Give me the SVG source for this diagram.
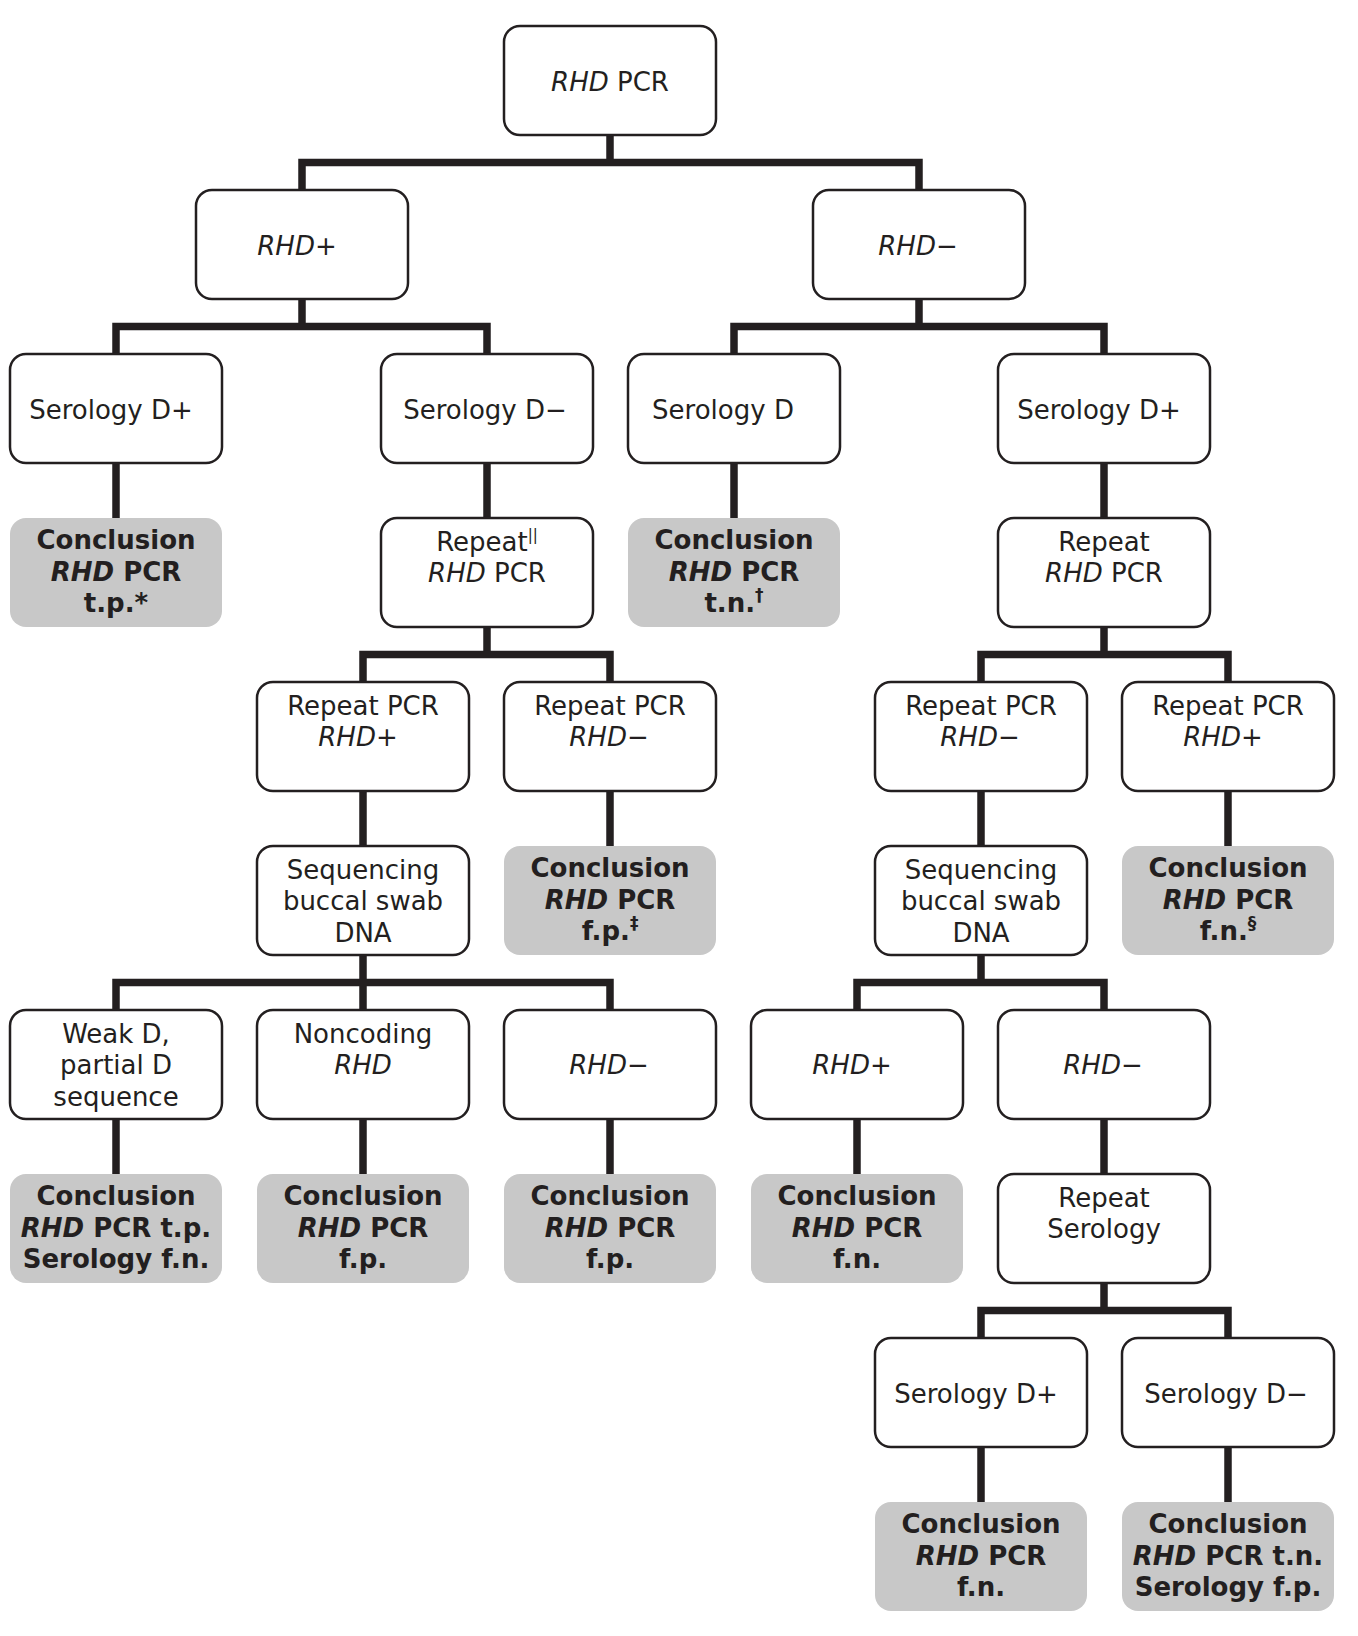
<svg xmlns="http://www.w3.org/2000/svg" width="1358" height="1636" viewBox="0 0 1358 1636">
<style>
.box{fill:#ffffff;stroke:#231f20;stroke-width:2.5}
.concl{fill:#c8c8c8;stroke:none}
.t{font-family:"DejaVu Sans",Verdana,sans-serif;font-size:26px;fill:#231f20;text-anchor:middle}
.b{font-weight:bold}
.i{font-style:italic}
.sup{font-size:15px;font-weight:normal;font-style:normal}
.supb{font-size:17px;font-weight:bold;font-style:normal}
.conn{fill:none;stroke:#231f20;stroke-width:7.5;stroke-linejoin:miter;stroke-linecap:butt}
</style>
<rect width="1358" height="1636" fill="#ffffff"/>

<g id="connectors" class="conn">
  <path d="M610 135 V162.5 M302 190 V162.5 H919 V190"/>
  <path d="M302 299 V326.5 M116 354 V326.5 H487 V354"/>
  <path d="M919 299 V326.5 M734 354 V326.5 H1104 V354"/>
  <path d="M116 463 V518 M487 463 V518 M734 463 V518 M1104 463 V518"/>
  <path d="M487 627 V654.5 M363 682 V654.5 H610 V682"/>
  <path d="M1104 627 V654.5 M981 682 V654.5 H1228 V682"/>
  <path d="M363 791 V846 M610 791 V846 M981 791 V846 M1228 791 V846"/>
  <path d="M363 955 V1010 M116 1010 V982.5 H610 V1010"/>
  <path d="M981 955 V982.5 M857 1010 V982.5 H1104 V1010"/>
  <path d="M116 1119 V1174 M363 1119 V1174 M610 1119 V1174 M857 1119 V1174 M1104 1119 V1174"/>
  <path d="M1104 1283 V1310.5 M981 1338 V1310.5 H1228 V1338"/>
  <path d="M981 1447 V1502 M1228 1447 V1502"/>
</g>

<g id="root" transform="translate(610,26)">
  <rect class="box" x="-106" y="0" width="212" height="109" rx="16"/>
  <text class="t" x="0" y="64.5"><tspan class="i">RHD</tspan> PCR</text>
</g>

<g id="rhd-pos" transform="translate(302,190)">
  <rect class="box" x="-106" y="0" width="212" height="109" rx="16"/>
  <text class="t i" x="-5" y="64.5">RHD+</text>
</g>
<g id="rhd-neg" transform="translate(919,190)">
  <rect class="box" x="-106" y="0" width="212" height="109" rx="16"/>
  <text class="t i" x="-1" y="64.5">RHD−</text>
</g>

<g id="ser-dpos-1" transform="translate(116,354)">
  <rect class="box" x="-106" y="0" width="212" height="109" rx="16"/>
  <text class="t" x="-5" y="64.5">Serology D+</text>
</g>
<g id="ser-dneg-1" transform="translate(487,354)">
  <rect class="box" x="-106" y="0" width="212" height="109" rx="16"/>
  <text class="t" x="-2" y="64.5">Serology D−</text>
</g>
<g id="ser-d" transform="translate(734,354)">
  <rect class="box" x="-106" y="0" width="212" height="109" rx="16"/>
  <text class="t" x="-11" y="64.5">Serology D</text>
</g>
<g id="ser-dpos-2" transform="translate(1104,354)">
  <rect class="box" x="-106" y="0" width="212" height="109" rx="16"/>
  <text class="t" x="-5" y="64.5">Serology D+</text>
</g>

<g id="concl-tp" transform="translate(116,518)">
  <rect class="concl" x="-106" y="0" width="212" height="109" rx="16"/>
  <text class="t b" x="0" y="31">Conclusion</text>
  <text class="t b" x="0" y="62.5"><tspan class="i">RHD</tspan> PCR</text>
  <text class="t b" x="0" y="94">t.p.*</text>
</g>
<g id="repeat-pcr-1" transform="translate(487,518)">
  <rect class="box" x="-106" y="0" width="212" height="109" rx="16"/>
  <text class="t" x="0" y="32.5">Repeat<tspan class="sup" dy="-11">||</tspan></text>
  <text class="t" x="0" y="64"><tspan class="i">RHD</tspan> PCR</text>
</g>
<g id="concl-tn" transform="translate(734,518)">
  <rect class="concl" x="-106" y="0" width="212" height="109" rx="16"/>
  <text class="t b" x="0" y="31">Conclusion</text>
  <text class="t b" x="0" y="62.5"><tspan class="i">RHD</tspan> PCR</text>
  <text class="t b" x="0" y="94">t.n.<tspan class="supb" dy="-11">†</tspan></text>
</g>
<g id="repeat-pcr-2" transform="translate(1104,518)">
  <rect class="box" x="-106" y="0" width="212" height="109" rx="16"/>
  <text class="t" x="0" y="32.5">Repeat</text>
  <text class="t" x="0" y="64"><tspan class="i">RHD</tspan> PCR</text>
</g>

<g id="rep-pos-1" transform="translate(363,682)">
  <rect class="box" x="-106" y="0" width="212" height="109" rx="16"/>
  <text class="t" x="0" y="32.5">Repeat PCR</text>
  <text class="t i" x="-5" y="64">RHD+</text>
</g>
<g id="rep-neg-1" transform="translate(610,682)">
  <rect class="box" x="-106" y="0" width="212" height="109" rx="16"/>
  <text class="t" x="0" y="32.5">Repeat PCR</text>
  <text class="t i" x="-1" y="64">RHD−</text>
</g>
<g id="rep-neg-2" transform="translate(981,682)">
  <rect class="box" x="-106" y="0" width="212" height="109" rx="16"/>
  <text class="t" x="0" y="32.5">Repeat PCR</text>
  <text class="t i" x="-1" y="64">RHD−</text>
</g>
<g id="rep-pos-2" transform="translate(1228,682)">
  <rect class="box" x="-106" y="0" width="212" height="109" rx="16"/>
  <text class="t" x="0" y="32.5">Repeat PCR</text>
  <text class="t i" x="-5" y="64">RHD+</text>
</g>

<g id="seq-1" transform="translate(363,846)">
  <rect class="box" x="-106" y="0" width="212" height="109" rx="16"/>
  <text class="t" x="0" y="32.5">Sequencing</text>
  <text class="t" x="0" y="64">buccal swab</text>
  <text class="t" x="0" y="95.5">DNA</text>
</g>
<g id="concl-fp-1" transform="translate(610,846)">
  <rect class="concl" x="-106" y="0" width="212" height="109" rx="16"/>
  <text class="t b" x="0" y="31">Conclusion</text>
  <text class="t b" x="0" y="62.5"><tspan class="i">RHD</tspan> PCR</text>
  <text class="t b" x="0" y="94">f.p.<tspan class="supb" dy="-11">‡</tspan></text>
</g>
<g id="seq-2" transform="translate(981,846)">
  <rect class="box" x="-106" y="0" width="212" height="109" rx="16"/>
  <text class="t" x="0" y="32.5">Sequencing</text>
  <text class="t" x="0" y="64">buccal swab</text>
  <text class="t" x="0" y="95.5">DNA</text>
</g>
<g id="concl-fn-1" transform="translate(1228,846)">
  <rect class="concl" x="-106" y="0" width="212" height="109" rx="16"/>
  <text class="t b" x="0" y="31">Conclusion</text>
  <text class="t b" x="0" y="62.5"><tspan class="i">RHD</tspan> PCR</text>
  <text class="t b" x="0" y="94">f.n.<tspan class="supb" dy="-11">§</tspan></text>
</g>

<g id="weak-d" transform="translate(116,1010)">
  <rect class="box" x="-106" y="0" width="212" height="109" rx="16"/>
  <text class="t" x="0" y="32.5">Weak D,</text>
  <text class="t" x="0" y="64">partial D</text>
  <text class="t" x="0" y="95.5">sequence</text>
</g>
<g id="noncoding" transform="translate(363,1010)">
  <rect class="box" x="-106" y="0" width="212" height="109" rx="16"/>
  <text class="t" x="0" y="32.5">Noncoding</text>
  <text class="t i" x="0" y="64">RHD</text>
</g>
<g id="seq-neg-1" transform="translate(610,1010)">
  <rect class="box" x="-106" y="0" width="212" height="109" rx="16"/>
  <text class="t i" x="-1" y="64">RHD−</text>
</g>
<g id="seq-pos-2" transform="translate(857,1010)">
  <rect class="box" x="-106" y="0" width="212" height="109" rx="16"/>
  <text class="t i" x="-5" y="64">RHD+</text>
</g>
<g id="seq-neg-2" transform="translate(1104,1010)">
  <rect class="box" x="-106" y="0" width="212" height="109" rx="16"/>
  <text class="t i" x="-1" y="64">RHD−</text>
</g>

<g id="concl-tp-fn" transform="translate(116,1174)">
  <rect class="concl" x="-106" y="0" width="212" height="109" rx="16"/>
  <text class="t b" x="0" y="31">Conclusion</text>
  <text class="t b" x="0" y="62.5"><tspan class="i">RHD</tspan> PCR t.p.</text>
  <text class="t b" x="0" y="94">Serology f.n.</text>
</g>
<g id="concl-fp-2" transform="translate(363,1174)">
  <rect class="concl" x="-106" y="0" width="212" height="109" rx="16"/>
  <text class="t b" x="0" y="31">Conclusion</text>
  <text class="t b" x="0" y="62.5"><tspan class="i">RHD</tspan> PCR</text>
  <text class="t b" x="0" y="94">f.p.</text>
</g>
<g id="concl-fp-3" transform="translate(610,1174)">
  <rect class="concl" x="-106" y="0" width="212" height="109" rx="16"/>
  <text class="t b" x="0" y="31">Conclusion</text>
  <text class="t b" x="0" y="62.5"><tspan class="i">RHD</tspan> PCR</text>
  <text class="t b" x="0" y="94">f.p.</text>
</g>
<g id="concl-fn-2" transform="translate(857,1174)">
  <rect class="concl" x="-106" y="0" width="212" height="109" rx="16"/>
  <text class="t b" x="0" y="31">Conclusion</text>
  <text class="t b" x="0" y="62.5"><tspan class="i">RHD</tspan> PCR</text>
  <text class="t b" x="0" y="94">f.n.</text>
</g>
<g id="repeat-serology" transform="translate(1104,1174)">
  <rect class="box" x="-106" y="0" width="212" height="109" rx="16"/>
  <text class="t" x="0" y="32.5">Repeat</text>
  <text class="t" x="0" y="64">Serology</text>
</g>

<g id="ser-dpos-3" transform="translate(981,1338)">
  <rect class="box" x="-106" y="0" width="212" height="109" rx="16"/>
  <text class="t" x="-5" y="64.5">Serology D+</text>
</g>
<g id="ser-dneg-3" transform="translate(1228,1338)">
  <rect class="box" x="-106" y="0" width="212" height="109" rx="16"/>
  <text class="t" x="-2" y="64.5">Serology D−</text>
</g>

<g id="concl-fn-3" transform="translate(981,1502)">
  <rect class="concl" x="-106" y="0" width="212" height="109" rx="16"/>
  <text class="t b" x="0" y="31">Conclusion</text>
  <text class="t b" x="0" y="62.5"><tspan class="i">RHD</tspan> PCR</text>
  <text class="t b" x="0" y="94">f.n.</text>
</g>
<g id="concl-tn-fp" transform="translate(1228,1502)">
  <rect class="concl" x="-106" y="0" width="212" height="109" rx="16"/>
  <text class="t b" x="0" y="31">Conclusion</text>
  <text class="t b" x="0" y="62.5"><tspan class="i">RHD</tspan> PCR t.n.</text>
  <text class="t b" x="0" y="94">Serology f.p.</text>
</g>
</svg>
